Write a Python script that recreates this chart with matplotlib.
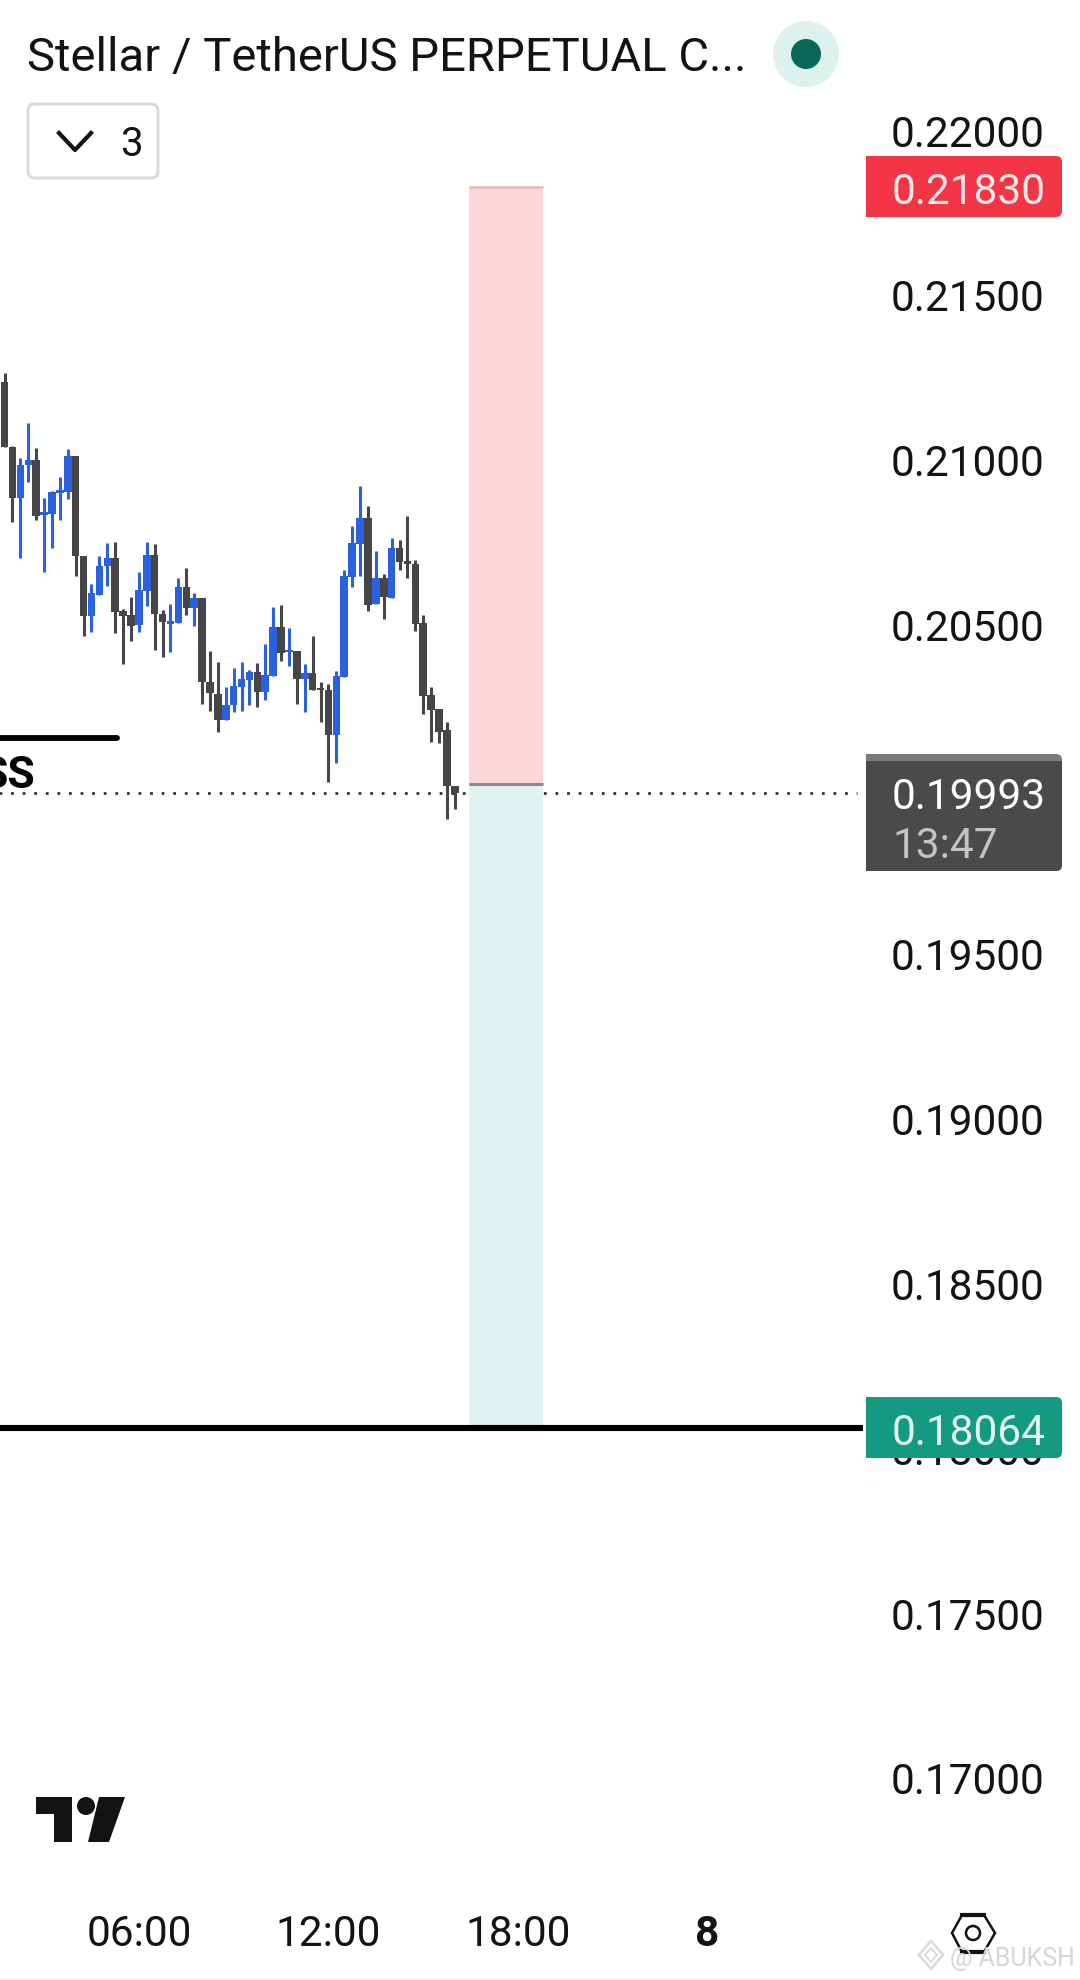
import matplotlib
matplotlib.use("Agg")
import matplotlib.pyplot as plt
import matplotlib.patches as mpatches
from matplotlib.transforms import ScaledTranslation
import numpy as np

# 15 minute candles, top / bottom of the body plus the wicks
body_top = [0.21238, 0.21041, 0.20987, 0.21001, 0.21001, 0.20843, 0.20904, 0.20910, 0.21013, 0.21013,
            0.20710, 0.20598, 0.20679, 0.20704, 0.20704, 0.20544, 0.20532, 0.20607, 0.20714, 0.20714,
            0.20534, 0.20513, 0.20615, 0.20615, 0.20582, 0.20582, 0.20327, 0.20293, 0.20257, 0.20315,
            0.20337, 0.20358, 0.20358, 0.20350, 0.20495, 0.20495, 0.20424, 0.20422, 0.20356, 0.20356,
            0.20311, 0.20305, 0.20346, 0.20649, 0.20750, 0.20825, 0.20825, 0.20645, 0.20645, 0.20734,
            0.20734, 0.20695, 0.20685, 0.20507, 0.20289, 0.20246, 0.20182, 0.20012]
body_bot = [0.21041, 0.20886, 0.20888, 0.20987, 0.20833, 0.20835, 0.20837, 0.20902, 0.20906, 0.20710,
            0.20528, 0.20528, 0.20592, 0.20679, 0.20540, 0.20528, 0.20499, 0.20501, 0.20604, 0.20536,
            0.20509, 0.20505, 0.20507, 0.20554, 0.20554, 0.20327, 0.20295, 0.20212, 0.20212, 0.20257,
            0.20313, 0.20335, 0.20299, 0.20299, 0.20346, 0.20416, 0.20418, 0.20337, 0.20337, 0.20305,
            0.20305, 0.20166, 0.20166, 0.20342, 0.20647, 0.20748, 0.20562, 0.20564, 0.20586, 0.20584,
            0.20691, 0.20687, 0.20503, 0.20287, 0.20244, 0.20178, 0.20014, 0.19993]
wick_high = [0.21266, 0.21043, 0.21007, 0.21114, 0.21037, 0.20888, 0.20908, 0.20949, 0.21035, 0.21013,
             0.20710, 0.20625, 0.20710, 0.20750, 0.20752, 0.20550, 0.20586, 0.20661, 0.20752, 0.20746,
             0.20546, 0.20564, 0.20643, 0.20673, 0.20598, 0.20582, 0.20422, 0.20388, 0.20312, 0.20370,
             0.20388, 0.20364, 0.20386, 0.20443, 0.20555, 0.20562, 0.20491, 0.20422, 0.20382, 0.20467,
             0.20327, 0.20323, 0.20362, 0.20667, 0.20801, 0.20922, 0.20861, 0.20726, 0.20655, 0.20764,
             0.20758, 0.20831, 0.20698, 0.20532, 0.20313, 0.20246, 0.20206, 0.20012]
wick_low = [0.21041, 0.20813, 0.20704, 0.20934, 0.20819, 0.20661, 0.20734, 0.20819, 0.20882, 0.20651,
            0.20469, 0.20481, 0.20592, 0.20621, 0.20477, 0.20382, 0.20453, 0.20481, 0.20558, 0.20426,
            0.20404, 0.20420, 0.20507, 0.20532, 0.20499, 0.20263, 0.20240, 0.20176, 0.20212, 0.20236,
            0.20241, 0.20259, 0.20251, 0.20275, 0.20346, 0.20392, 0.20378, 0.20263, 0.20238, 0.20305,
            0.20208, 0.20026, 0.20083, 0.20342, 0.20617, 0.20651, 0.20544, 0.20564, 0.20518, 0.20584,
            0.20669, 0.20645, 0.20483, 0.20232, 0.20147, 0.20143, 0.19913, 0.19943]
candle_up = [0, 0, 1, 1, 0, 1, 1, 1, 1, 0, 0, 1, 1, 1, 0, 0, 0, 1, 1, 0, 0, 1, 1, 0, 1, 0, 0, 0, 1,
             1, 1, 1, 0, 1, 1, 0, 1, 0, 1, 0, 0, 0, 1, 1, 1, 1, 0, 1, 0, 1, 0, 0, 0, 0, 0, 0, 0, 0]

y_ticks = [0.22, 0.215, 0.21, 0.205, 0.2, 0.195, 0.19, 0.185, 0.18, 0.175, 0.17]
y_tick_labels = ["0.22000", "0.21500", "0.21000", "0.20500", "", "0.19500", "0.19000", "0.18500", "0.18000", "0.17500", "0.17000"]
x_ticks = [17, 41, 65, 89]
x_tick_labels = ["06:00", "12:00", "18:00", "8"]

last_price = 0.19993
stop_price = 0.2183
entry_price = 0.20019
target_price = 0.18064
box_left = 58.8
box_right = 68.15
bos_left = -1
bos_right = 14.2
bos_price = 0.20158

plt.rcParams["font.family"] = ["Roboto", "DejaVu Sans"]

BLUE = "#2B60DE"
DARK = "#464646"
TEXT = "#131313"
FS = 30.5

fig = plt.figure(figsize=(10.8, 19.81), dpi=100, facecolor="white")
ax = fig.add_axes([0, 0, 1, 1])
ax.set_xlim(-0.582, 136.13)
ax.set_ylim(0.163901, 0.224005)
for s in ax.spines.values():
    s.set_visible(False)

x = np.arange(len(body_top))
colors = [BLUE if u else DARK for u in candle_up]
top = np.array(body_top)
bot = np.array(body_bot)

ax.plot([-1, 107.9], [last_price, last_price], color="#333333", lw=2.0, ls=(0, (1, 3.17)), zorder=1)
ax.vlines(x, wick_low, wick_high, colors=colors, lw=2.2, zorder=2)
ax.bar(x, top - bot, bottom=bot, width=0.96, color=colors, zorder=3)

# long short position box
ax.fill_between([box_left, box_right], entry_price, stop_price, color="#FBD7DA", lw=0, zorder=4)
ax.fill_between([box_left, box_right], target_price, entry_price, color="#E0F2EF", lw=0, zorder=4)
ax.plot([box_left, box_right], [stop_price, stop_price], color="#EDB9BD", lw=2, solid_capstyle="butt", zorder=5)
ax.plot([box_left, box_right], [entry_price, entry_price], color="#8A8A8A", lw=2.2, solid_capstyle="butt", zorder=5)

ax.plot([-1, 108.6], [target_price, target_price], color="black", lw=4.4, solid_capstyle="butt", zorder=6)
ax.plot([bos_left, bos_right], [bos_price, bos_price], color="black", lw=4.2, solid_capstyle="round", zorder=6)

ax.yaxis.tick_right()
ax.set_yticks(y_ticks)
ax.set_yticklabels(y_tick_labels, fontsize=FS, color=TEXT, ha="right", va="center_baseline")
ax.tick_params(axis="y", length=0, pad=-25.5)
# labels sit a hair high in the app
nudge = ScaledTranslation(0, 1.5 / 100, fig.dpi_scale_trans)
for lab in ax.get_yticklabels():
    lab.set_transform(lab.get_transform() + nudge)
ax.set_xticks(x_ticks)
ax.set_xticklabels(x_tick_labels, fontsize=FS, color=TEXT, va="center_baseline")
ax.tick_params(axis="x", length=0, pad=-36.5)
ax.get_xticklabels()[-1].set_fontweight("bold")

# overlay in pixels for the app furniture
ov = fig.add_axes([0, 0, 1, 1], zorder=10)
ov.set_xlim(0, 1080)
ov.set_ylim(1981, 0)
ov.axis("off")
ov.patch.set_alpha(0)


def tag(x0, y0, x1, y1, color):
    ov.add_patch(mpatches.FancyBboxPatch((x0, y0), x1 - x0, y1 - y0, boxstyle="round,pad=0,rounding_size=6", fc=color, ec="none"))
    ov.add_patch(mpatches.Rectangle((x0, y0), 12, y1 - y0, fc=color, ec="none"))


tag(866, 157, 1062, 218, "#F23645")
ov.text(892, 188, "0.21830", fontsize=FS, color="#FBE6E8", va="center_baseline")

tag(866, 755, 1062, 872, "#7A7A7A")
tag(866, 762, 1062, 872, "#4A4A4A")
ov.add_patch(mpatches.Rectangle((1040, 762), 22, 20, fc="#4A4A4A", ec="none"))
ov.text(892, 793, "0.19993", fontsize=FS, color="white", va="center_baseline")
ov.text(892, 842, "13:47", fontsize=FS, color="#C4C4C4", va="center_baseline")

tag(866, 1398, 1062, 1459, "#149A80")
ov.text(892, 1429, "0.18064", fontsize=FS, color="#E2F6F1", va="center_baseline")

ov.text(27, 54, "Stellar / TetherUS PERPETUAL C...", fontsize=34, color=TEXT, va="center_baseline")
ov.add_patch(mpatches.Circle((806, 55), 33, fc="#DDF1ED", ec="none"))
ov.add_patch(mpatches.Circle((806, 55), 15, fc="#08695A", ec="none"))

ov.add_patch(mpatches.FancyBboxPatch((28, 105), 130, 74, boxstyle="round,pad=0,rounding_size=7", fc="white", ec="#DADADA", lw=2.2))
ov.plot([59, 75, 91], [134, 151, 134], color=TEXT, lw=3)
ov.text(131, 141, "3", fontsize=29, color=TEXT, ha="center", va="center_baseline")

ov.text(35, 772, "SS", fontsize=32, fontweight="bold", color="black", ha="right", va="center_baseline")

# tradingview mark
ov.add_patch(mpatches.Polygon([(36, 1798), (72, 1798), (72, 1843), (54, 1843), (54, 1815), (36, 1815)], fc=TEXT, ec="none"))
ov.add_patch(mpatches.Ellipse((86, 1807), 18, 18, fc=TEXT, ec="none"))
ov.add_patch(mpatches.Polygon([(99, 1798), (125, 1798), (109, 1843), (88, 1843)], fc=TEXT, ec="none"))

# settings hexagon
ov.add_patch(mpatches.Polygon([(952, 1934), (962, 1916), (984, 1916), (995, 1934), (984, 1953), (962, 1953)], fc="none", ec=TEXT, lw=1.8))
ov.plot([962, 984], [1916, 1916], color=TEXT, lw=3)
ov.plot([962, 984], [1953, 1953], color=TEXT, lw=3)
ov.add_patch(mpatches.Circle((973, 1934), 7, fc="none", ec=TEXT, lw=1.8))

# watermark
ov.add_patch(mpatches.Polygon([(919, 1956), (931, 1942), (943, 1956), (931, 1970)], fc="none", ec="#DCDCDC", lw=2))
ov.add_patch(mpatches.Polygon([(925, 1956), (931, 1949), (937, 1956), (931, 1963)], fc="none", ec="#DCDCDC", lw=1.5))
ov.text(950, 1957, "@ ABUKSH", fontsize=18, color="#D6D6D6", va="center_baseline")
ov.plot([0, 1080], [1980, 1980], color="#EEEEEE", lw=1)

fig.savefig("out.png", dpi=100, facecolor="white")
